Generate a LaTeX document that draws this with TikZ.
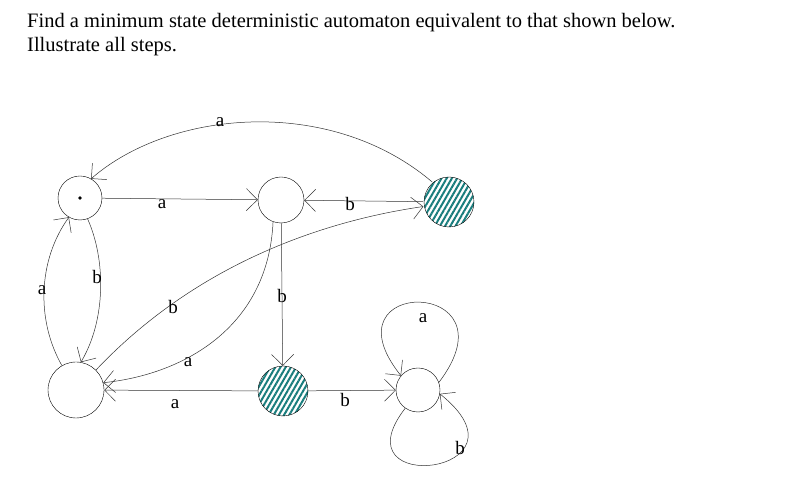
\documentclass[tikz,border=0pt]{standalone}
\usepackage{fontspec}
\setmainfont{Liberation Serif}
\usetikzlibrary{arrows.meta,patterns.meta}
\definecolor{teal1}{RGB}{25,125,125}
\begin{document}
\begin{tikzpicture}[x=1pt,y=-1pt,
  st/.style={circle,draw,thin,inner sep=0pt},
  fin/.style={st,pattern={Lines[angle=60,distance=4.5pt,line width=2pt]},pattern color=teal1},
  ed/.style={draw,gray!40!black,line width=0.5pt,-{Straight Barb[length=11pt,width=22pt]}},
  lb/.style={font=\fontsize{19}{19}\selectfont,inner sep=1pt}]
\useasboundingbox (0,0) rectangle (796,502);
\node[anchor=north west,align=left,inner sep=0pt,font=\fontsize{20.5}{24}\selectfont] (t) at (27,13) {Find a minimum state deterministic automaton equivalent to that shown below.\\Illustrate all steps.};
\node[st,minimum size=44pt] (A) at (80,198) {};
\fill (A) circle (1.8pt);
\node[st,minimum size=46pt] (B) at (281,200) {};
\node[fin,minimum size=50pt] (C) at (449,202) {};
\node[st,minimum size=56pt] (D) at (76,390) {};
\node[fin,minimum size=50pt] (E) at (283,391) {};
\node[st,minimum size=44pt] (F) at (418,390) {};
\draw[ed] (A) -- (B);
\node[lb] (la1) at (162,204) {a};
\draw[ed] (C) -- (B);
\node[lb] (lb1) at (350,204) {b};
\draw[ed] (C.130) .. controls (330,95) and (170,110) .. (A.60);
\node[lb] (la2) at (220,122) {a};
\draw[ed] (A.-70) .. controls (106,260) and (106,320) .. (D.80);
\node[lb] (lb2) at (97,277) {b};
\draw[ed] (D.120) .. controls (36,320) and (38,260) .. (A.-120);
\node[lb] (la3) at (42,290) {a};
\draw[ed] (D.45) .. controls (200,260) and (330,220) .. (C.190);
\node[lb] (lb3) at (173,307) {b};
\draw[ed] (B.-110) .. controls (268,330) and (180,375) .. (D.15);
\node[lb] (la4) at (188,362) {a};
\draw[ed] (B) -- (E);
\node[lb] (lb4) at (282,296) {b};
\draw[ed] (E) -- (D);
\node[lb] (la5) at (175,404) {a};
\draw[ed] (E) -- (F);
\node[lb] (lb5) at (345,400) {b};
\draw[ed] (F.20) .. controls +(80,-105) and +(-80,-100) .. (F.140);
\node[lb] (la6) at (423,318) {a};
\draw[ed] (F.235) .. controls +(-70,90) and +(100,80) .. (F.-10);
\node[lb] (lb6) at (460,448) {b};
\end{tikzpicture}
\end{document}
